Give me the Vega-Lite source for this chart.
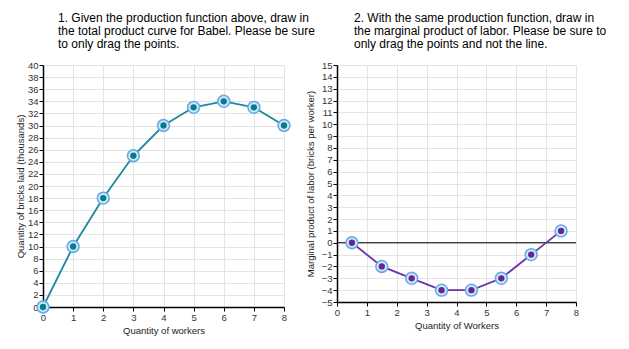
{
  "$schema": "https://vega.github.io/schema/vega-lite/v6.json",
  "autosize": {"type": "pad"},
  "padding": {"left": 15, "top": 12, "right": 5, "bottom": 5},
  "background": "white",
  "datasets": {
    "tp": [
      {"workers": 0, "bricks": 0},
      {"workers": 1, "bricks": 10},
      {"workers": 2, "bricks": 18},
      {"workers": 3, "bricks": 25},
      {"workers": 4, "bricks": 30},
      {"workers": 5, "bricks": 33},
      {"workers": 6, "bricks": 34},
      {"workers": 7, "bricks": 33},
      {"workers": 8, "bricks": 30}
    ],
    "mp": [
      {"workers": 0.5, "mpl": 0},
      {"workers": 1.5, "mpl": -2},
      {"workers": 2.5, "mpl": -3},
      {"workers": 3.5, "mpl": -4},
      {"workers": 4.5, "mpl": -4},
      {"workers": 5.5, "mpl": -3},
      {"workers": 6.5, "mpl": -1},
      {"workers": 7.5, "mpl": 1}
    ],
    "zero": [{"workers": 0, "mpl": 0}]
  },
  "config": {
    "font": "Liberation Sans",
    "view": {"stroke": null},
    "axis": {
      "labelFont": "Liberation Sans",
      "labelFontSize": 9.5,
      "labelColor": "#333333",
      "labelOverlap": false,
      "titleFont": "Liberation Sans",
      "titleFontSize": 9.5,
      "titleFontWeight": "normal",
      "titleColor": "#222222",
      "domainColor": "#000000",
      "domainWidth": 1.5,
      "tickColor": "#000000",
      "tickSize": 4,
      "gridColor": "#e4e4e4",
      "gridWidth": 1,
      "labelPadding": 1
    },
    "title": {
      "font": "Liberation Sans",
      "fontSize": 12,
      "fontWeight": "normal",
      "color": "#000000",
      "anchor": "start",
      "frame": "group",
      "lineHeight": 13,
      "offset": 9
    }
  },
  "bounds": "flush",
  "spacing": 53,
  "hconcat": [
    {
      "width": 241,
      "height": 242,
      "title": {
        "text": ["1. Given the production function above, draw in", "the total product curve for Babel. Please be sure", "to only drag the points."],
        "dx": 15
      },
      "data": {"name": "tp"},
      "encoding": {
        "x": {
          "field": "workers", "type": "quantitative",
          "scale": {"domain": [0, 8], "nice": false},
          "axis": {"values": [0, 1, 2, 3, 4, 5, 6, 7, 8], "title": "Quantity of workers", "titlePadding": 4, "labelFlush": false, "labelOverlap": false}
        },
        "y": {
          "field": "bricks", "type": "quantitative",
          "scale": {"domain": [0, 40], "nice": false},
          "axis": {"values": [0, 2, 4, 6, 8, 10, 12, 14, 16, 18, 20, 22, 24, 26, 28, 30, 32, 34, 36, 38, 40], "title": "Quantity of bricks laid (thousands)", "titlePadding": 2, "labelFlush": false, "labelOverlap": false}
        }
      },
      "layer": [
        {"mark": {"type": "line", "color": "#1a8a9e", "strokeWidth": 1.8, "clip": false}},
        {"mark": {"type": "point", "filled": true, "size": 140, "fill": "#d6e8f8", "stroke": "#6aaae6", "strokeWidth": 1.6, "opacity": 1, "clip": false}},
        {"mark": {"type": "point", "filled": true, "size": 40, "color": "#00808e", "opacity": 1, "clip": false}}
      ]
    },
    {
      "width": 239,
      "height": 237,
      "title": {
        "text": ["2. With the same production function, draw in", "the marginal product of labor. Please be sure to", "only drag the points and not the line."],
        "dx": 17
      },
      "encoding": {
        "x": {
          "field": "workers", "type": "quantitative",
          "scale": {"domain": [0, 8], "nice": false},
          "axis": {"values": [0, 1, 2, 3, 4, 5, 6, 7, 8], "title": "Quantity of Workers", "titlePadding": 4, "labelFlush": false, "labelOverlap": false}
        },
        "y": {
          "field": "mpl", "type": "quantitative",
          "scale": {"domain": [-5, 15], "nice": false},
          "axis": {"values": [-5, -4, -3, -2, -1, 0, 1, 2, 3, 4, 5, 6, 7, 8, 9, 10, 11, 12, 13, 14, 15], "title": "Marginal product of labor (bricks per worker)", "titlePadding": 6, "labelFlush": false, "labelOverlap": false}
        }
      },
      "layer": [
        {
          "data": {"name": "zero"},
          "mark": {"type": "rule", "color": "#000000", "strokeWidth": 1.2},
          "encoding": {"x": null}
        },
        {
          "data": {"name": "mp"},
          "mark": {"type": "line", "color": "#6b33a6", "strokeWidth": 1.8, "clip": false}
        },
        {
          "data": {"name": "mp"},
          "mark": {"type": "point", "filled": true, "size": 140, "fill": "#d6e8f8", "stroke": "#6aaae6", "strokeWidth": 1.6, "opacity": 1, "clip": false}
        },
        {
          "data": {"name": "mp"},
          "mark": {"type": "point", "filled": true, "size": 40, "color": "#5e2a92", "opacity": 1, "clip": false}
        }
      ]
    }
  ]
}
